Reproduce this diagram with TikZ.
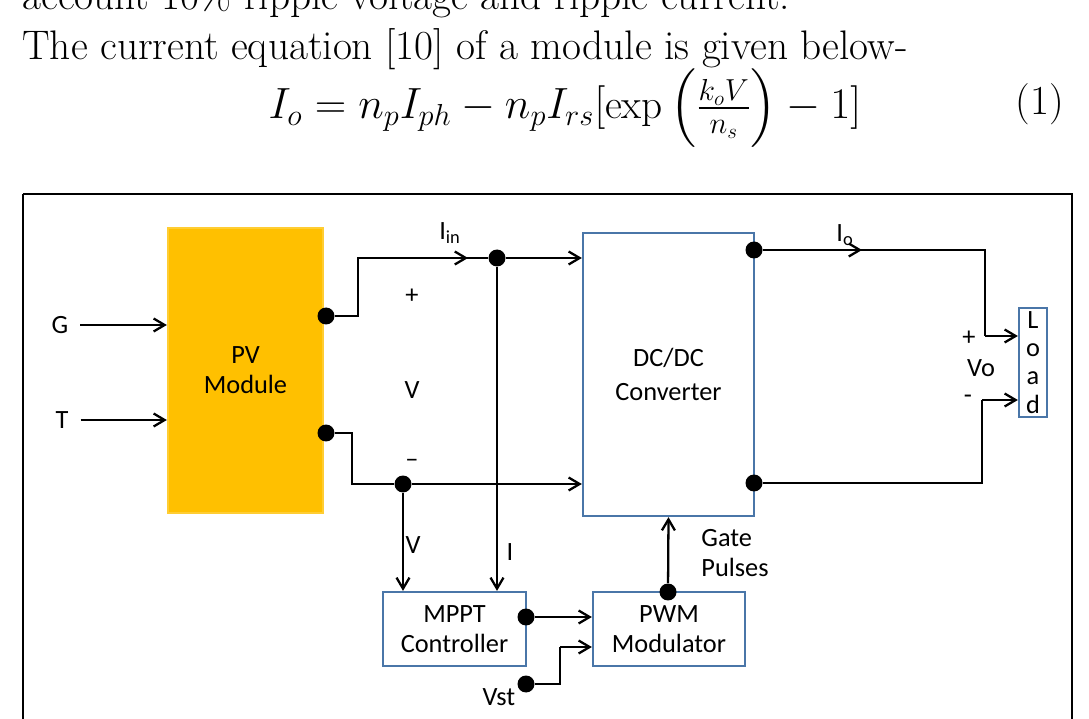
\documentclass[tikz,border=0pt]{standalone}
\usepackage{amsmath}
\usepackage{fontspec}
\newfontfamily\diag{Carlito}
\usetikzlibrary{arrows.meta}
\definecolor{pvfill}{HTML}{FFC000}
\definecolor{boxblue}{HTML}{4A76A8}
\begin{document}
\begin{tikzpicture}[x=0.02cm,y=-0.02cm,
  wire/.style={line width=1.3pt},
  arr/.style={wire,-{Straight Barb[length=2.2mm,width=2.6mm]}},
  blk/.style={draw=boxblue,line width=1.3pt,font=\diag\fontsize{15}{17}\selectfont,align=center,inner sep=0pt},
  lbl/.style={font=\diag\fontsize{15}{17}\selectfont,inner sep=1pt},
  dot/.style={circle,fill=black,inner sep=0pt,minimum size=3.4mm},
  page/.style={inner sep=0pt,font=\fontsize{23.5}{27}\selectfont}]
\useasboundingbox (0,0) rectangle (1089,719);
\clip (0,0) rectangle (1089,719);
% page text
\node[page,anchor=base west] (t0) at (22,10) {account 10\% ripple voltage and ripple current.};
\node[page,anchor=base west] (t1) at (22,60) {The current equation [10] of a module is given below-};
\node[page] (eq) at (565,108) {$I_o = n_pI_{ph} - n_pI_{rs}[\exp\left(\frac{k_oV}{n_s}\right) - 1]$};
\node[page] (eqn) at (1040,104) {(1)};
% frame
\draw[line width=1.5pt] (23,194) -- (1072,194) -- (1072,730) (23,194) -- (23,730);
% blocks
\node[blk,draw=pvfill!80!white,fill=pvfill,minimum width=155*0.02cm,minimum height=285*0.02cm] (pv) at (245.5,370.5) {PV\\Module};
\node[blk,minimum width=171*0.02cm,minimum height=283*0.02cm] (dc) at (668.5,374.5) {DC/DC\\[2pt]Converter};
\node[blk,minimum width=28*0.02cm,minimum height=109*0.02cm] (load) at (1033,362.5) {L\\[-1pt]o\\[-1pt]a\\[-1pt]d};
\node[blk,minimum width=143*0.02cm,minimum height=74*0.02cm] (mppt) at (454.5,629) {MPPT\\Controller};
\node[blk,minimum width=152*0.02cm,minimum height=74*0.02cm] (pwm) at (669,629) {PWM\\Modulator};
% inputs
\node[lbl] (g) at (60,325) {G};
\node[lbl] (t) at (62,420) {T};
\draw[arr] (g.east) ++(10,0) coordinate (g1) (g1) -- (pv.west |- g);
\draw[arr] (t.east) ++(10,0) coordinate (t1a) (t1a) -- (pv.west |- t);
% PV outputs
\node[dot] (pp) at (326,316) {};
\node[dot] (pm) at (326,433) {};
\node[dot] (jI) at (497,258) {};
\node[dot] (jV) at (403,484) {};
\draw[wire] (pp) -- (358,316) -- (358,258) -- (jI);
\draw[arr] (358,258) -- (468,258);
\draw[arr] (jI) -- (dc.west |- jI);
\draw[wire] (pm) -- (352,433) -- (352,484) -- (jV);
\draw[arr] (jV) -- (dc.west |- jV);
\node[lbl] (iin) at (450,233) {I\textsubscript{in}};
\node[lbl] (vp) at (412,296) {+};
\node[lbl] (vv) at (412,390) {V};
\node[lbl] (vm) at (412,463) {–};
% sensing
\draw[arr] (jV) -- (jV |- mppt.north);
\draw[arr] (jI) -- (jI |- mppt.north);
\node[lbl] (lv) at (413,545) {V};
\node[lbl] (li) at (510,552) {I};
% DC outputs
\node[dot] (op) at (754,250) {};
\node[dot] (om) at (754,483) {};
\draw[wire] (op) -- (985,250) -- (985,336);
\draw[arr] (op) -- (862,250);
\draw[arr] (985,336) -- (load.west |- 0,336);
\draw[wire] (om) -- (982,483) -- (982,400);
\draw[arr] (982,400) -- (load.west |- 0,400);
\node[lbl] (io) at (845,235) {I\textsubscript{o}};
\node[lbl] (op2) at (969,338) {+};
\node[lbl] (vo) at (981,368) {Vo};
\node[lbl] (om2) at (968,399) {-};
% control
\node[dot] (mo) at (526,617) {};
\draw[arr] (mo) -- (pwm.west |- mo);
\node[dot] (vst) at (526,684) {};
\draw[wire] (vst) -- (560,684) -- (560,647);
\draw[arr] (560,647) -- (pwm.west |- 0,647);
\node[lbl] (lvst) at (499,697) {Vst};
\node[dot] (po) at (668,592) {};
\draw[arr] (po) -- (dc.south);
\node[lbl,align=left] (gp) at (735,553) {Gate\\Pulses};
\end{tikzpicture}
\end{document}
